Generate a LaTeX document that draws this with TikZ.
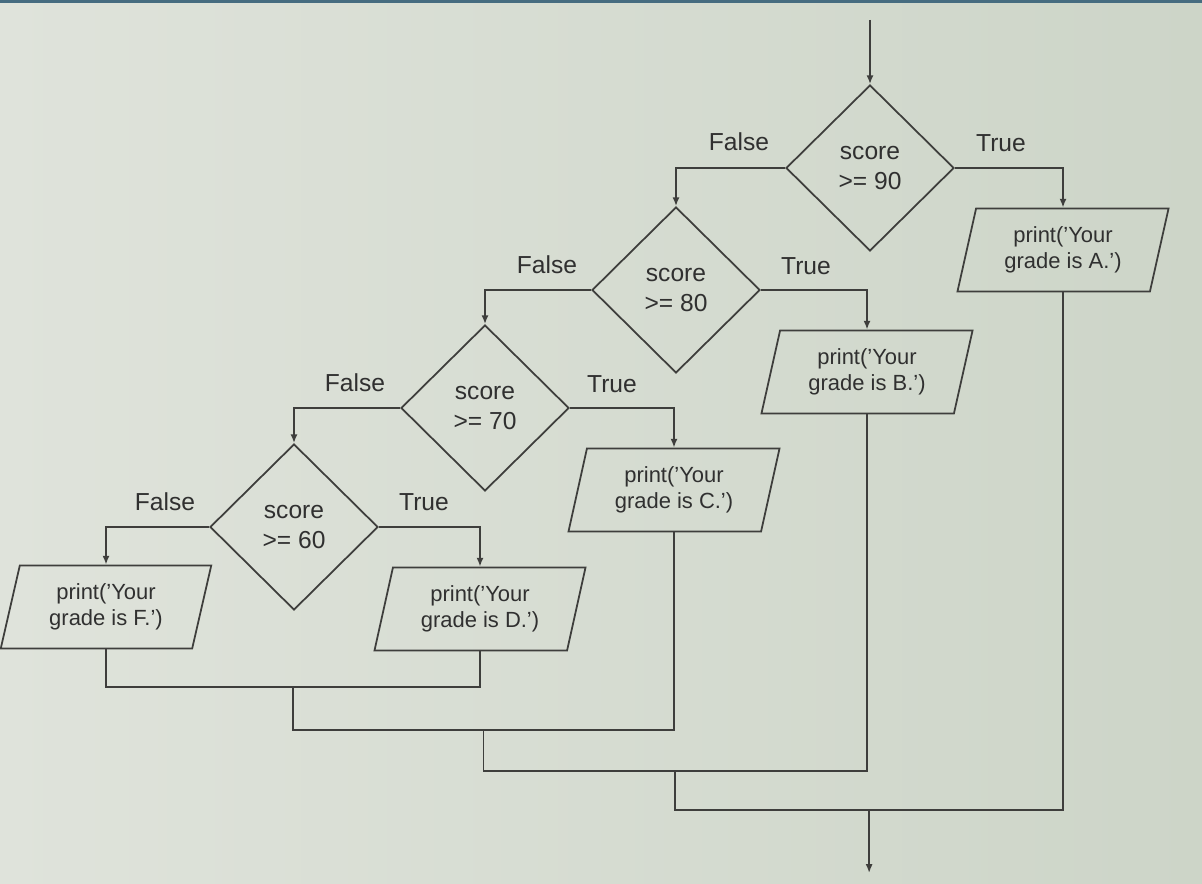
\documentclass[tikz,border=0pt]{standalone}
\usepackage{fontspec}
\setmainfont{Liberation Sans}
\usetikzlibrary{shapes.geometric,arrows.meta,calc}
\definecolor{bgL}{RGB}{223,227,219}
\definecolor{bgR}{RGB}{205,213,200}
\definecolor{ink}{RGB}{62,62,60}
\definecolor{txt}{RGB}{48,48,48}
\definecolor{strip}{RGB}{70,108,128}
\begin{document}
\begin{tikzpicture}[x=0.02cm,y=-0.02cm,
  dec/.style={diamond, draw=ink, line width=1pt, minimum width=3.36cm, minimum height=3.32cm,
    inner sep=0pt, align=center, text=txt, font=\fontsize{14}{17}\selectfont},
  io/.style={trapezium, trapezium left angle=75, trapezium right angle=105, trapezium stretches=true,
    draw=ink, line width=1pt, minimum width=4.24cm, minimum height=1.66cm, inner sep=0pt,
    align=center, text=txt, font=\fontsize{12.5}{15}\selectfont},
  lbl/.style={text=txt, font=\fontsize{14}{17}\selectfont, inner sep=0pt},
  line/.style={draw=ink, line width=1pt},
  arr/.style={line, -{Latex[length=5pt,width=4pt]}}]
\useasboundingbox (0,0) rectangle (1202,884);
\shade[left color=bgL,right color=bgR] (0,0) rectangle (1202,884);
\fill[strip] (0,0) rectangle (1202,3);

% decisions
\node[dec] (d90) at (870,168) {score\\>= 90};
\node[dec] (d80) at (676,290) {score\\>= 80};
\node[dec] (d70) at (485,408) {score\\>= 70};
\node[dec] (d60) at (294,527) {score\\>= 60};

% outputs
\node[io] (pa) at (1063,250) {print('Your\\grade is A.')};
\node[io] (pb) at (867,372) {print('Your\\grade is B.')};
\node[io] (pc) at (674,490) {print('Your\\grade is C.')};
\node[io] (pd) at (480,609) {print('Your\\grade is D.')};
\node[io] (pf) at (106,607) {print('Your\\grade is F.')};

% labels
\node[lbl] (f90) at (739,142) {False};
\node[lbl] (t90) at (1001,143) {True};
\node[lbl] (f80) at (547,265) {False};
\node[lbl] (t80) at (806,266) {True};
\node[lbl] (f70) at (355,383) {False};
\node[lbl] (t70) at (612,384) {True};
\node[lbl] (f60) at (165,502) {False};
\node[lbl] (t60) at (424,502) {True};

% entry
\coordinate (start) at (870,20);
\draw[arr] (start) -- (d90.north);

% branches
\draw[arr] (d90.west) -| (d80.north);
\draw[arr] (d90.east) -| (pa.north);
\draw[arr] (d80.west) -| (d70.north);
\draw[arr] (d80.east) -| (pb.north);
\draw[arr] (d70.west) -| (d60.north);
\draw[arr] (d70.east) -| (pc.north);
\draw[arr] (d60.west) -| (pf.north);
\draw[arr] (d60.east) -| (pd.north);

% merges
\coordinate (L1) at (0,687);
\coordinate (L2) at (0,730);
\coordinate (L3) at (0,771);
\coordinate (L4) at (0,810);
\coordinate (L5) at (0,873);
\draw[line] (pf.south) -- (pf.south |- L1) -- (pd.south |- L1) -- (pd.south);
\coordinate (j1) at ($(pf.south |- L1)!0.5!(pd.south |- L1)$);
\draw[line] (pc.south) -- (pc.south |- L2) -- (j1 |- L2) -- (j1);
\coordinate (j2) at ($(j1 |- L2)!0.5!(pc.south |- L2)$);
\draw[line] (pb.south) -- (pb.south |- L3) -- (j2 |- L3) -- (j2);
\coordinate (j3) at ($(j2 |- L3)!0.5!(pb.south |- L3)$);
\draw[line] (pa.south) -- (pa.south |- L4) -- (j3 |- L4) -- (j3);
\coordinate (j4) at ($(j3 |- L4)!0.5!(pa.south |- L4)$);
\coordinate (stop) at (j4 |- L5);
\draw[arr] (j4) -- (stop);
\end{tikzpicture}
\end{document}
